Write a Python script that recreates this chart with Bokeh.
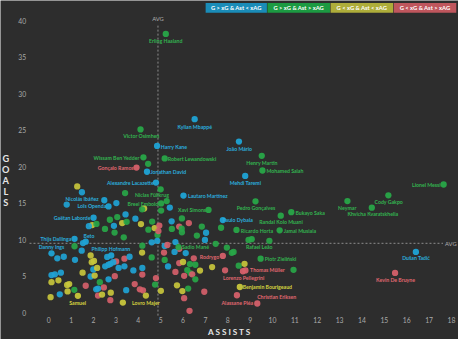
from bokeh.plotting import figure
from bokeh.models import Range1d, ColumnDataSource
from bokeh.core.properties import value
from bokeh.embed import file_html
from bokeh.resources import INLINE

# ---------------- data ----------------
categories = ["G > xG & Ast < xAG", "G > xG & Ast > xAG",
              "G < xG & Ast < xAG", "G < xG & Ast > xAG"]
x_ticks = list(range(0, 19))
y_ticks = list(range(0, 41, 5))
avg_assists = 4.88
avg_goals = 9.52

label_names = ["Erling Haaland", "Kylian Mbappé", "Victor Osimhen", "Harry Kane", "João Mário",
               "Wissam Ben Yedder", "Robert Lewandowski", "Henry Martin", "Mohamed Salah",
               "Gonçalo Ramos", "Jonathan David", "Mehdi Taremi", "Alexandre Lacazette",
               "Lionel Messi", "Cody Gakpo", "Neymar", "Khvicha Kvaratskhelia", "Bukayo Saka",
               "Pedro Gonçalves", "Lautaro Martínez", "Xavi Simons", "Paulo Dybala",
               "Randal Kolo Muani", "Ricardo Horta", "Jamal Musiala", "Rafael Leão",
               "Piotr Zieliński", "Thomas Müller", "Lorenzo Pellegrini", "Benjamin Bourigeaud",
               "Christian Eriksen", "Alassane Pléa", "Kevin De Bruyne", "Dušan Tadić",
               "Sadio Mané", "Rodrygo", "Lovro Majer", "Samuel", "Thijs Dallinga", "Danny Ings",
               "Beto", "Philipp Hofmann", "Gaëtan Laborde", "Nicolás Ibáñez", "Loïs Openda",
               "Breel Embolo", "Niclas Füllkrug"]
label_assists = [5.23, 6.52, 4.10, 4.84, 8.50, 4.23, 5.18, 9.52, 9.55, 3.92, 4.39, 8.78, 4.79,
                 17.65, 15.18, 13.35, 14.44, 10.84, 9.24, 6.02, 7.14, 7.78, 10.37, 8.39, 10.32,
                 9.07, 9.47, 8.79, 8.68, 8.54, 8.41, 9.32, 15.48, 16.41, 5.80, 7.78, 3.31, 1.30,
                 1.15, 0.12, 1.65, 2.79, 2.00, 2.48, 2.67, 5.02, 5.00]
label_goals = [38.22, 26.53, 25.13, 22.87, 23.47, 21.30, 21.16, 21.51, 19.50, 19.90, 19.33, 18.76,
               17.84, 17.58, 16.10, 15.31, 14.40, 13.78, 15.27, 16.06, 14.10, 12.70, 13.31, 11.35,
               11.30, 10.08, 7.42, 5.80, 5.69, 3.53, 2.40, 1.27, 5.46, 8.34, 8.99, 7.79, 1.40,
               2.32, 10.14, 8.15, 9.75, 7.85, 13.02, 15.42, 14.57, 14.99, 16.92]
label_cats = [1, 0, 1, 0, 0, 1, 1, 1, 1, 3, 0, 0, 0, 1, 1, 1, 1, 1, 1, 0, 1, 0, 1, 1, 1, 1, 1,
              3, 3, 2, 3, 3, 3, 0, 1, 3, 2, 2, 0, 0, 0, 0, 0, 0, 0, 1, 1]

other_assists = [4.44, 3.41, 1.27, 1.48, 0.80, 3.02, 5.27, 5.41, 5.02, 4.26, 4.17, 3.43, 3.87,
                 2.73, 3.06, 3.28, 3.48, 4.12, 4.62, 4.73, 1.94, 1.79, 2.13, 2.51, 2.94, 3.35,
                 4.45, 2.91, 4.94, 4.86, 4.90, 5.49, 5.95, 6.26, 5.83, 5.94, 5.50, 5.95, 6.62,
                 6.84, 7.03, 6.98, 7.46, 7.70, 7.96, 8.18, 8.26, 8.93, 9.86, 5.66, 5.18, 5.30,
                 5.15, 5.83, 5.62, 6.12, 6.48, 5.18, 5.33, 5.83, 6.00, 6.31, 6.55, 6.19, 6.34,
                 6.05, 6.41, 6.76, 6.55, 5.66, 4.75, 5.01, 5.73, 5.97, 6.23, 6.05, 6.29, 6.95,
                 7.30, 7.88, 8.49, 8.75, 10.94, 4.60, 4.17, 4.18, 4.60, 4.85, 4.79, 4.18, 3.84,
                 4.07, 4.21, 4.34, 3.78, 4.18, 3.46, 3.38, 3.12, 3.01, 2.88, 3.38, 3.61, 2.61,
                 2.52, 2.67, 2.76, 2.95, 2.67, 2.28, 2.46, 2.12, 2.20, 2.20, 2.38, 2.77, 2.75,
                 1.87, 2.05, 1.51, 1.99, 2.16, 1.92, 2.02, 1.87, 1.47, 1.15, 1.53, 0.38, 0.67,
                 1.17, 0.12, 0.27, 0.54, 0.12, 0.43, 0.82, 0.91, 1.14, 0.84, 0.08, 0.49, 1.65]
other_goals = [20.42, 16.40, 17.32, 16.52, 14.83, 15.03, 15.31, 14.42, 14.01, 14.29, 14.18, 13.48,
               12.89, 12.75, 13.12, 12.30, 12.46, 12.15, 12.50, 11.61, 12.02, 11.87, 12.17, 11.49,
               10.99, 10.34, 11.39, 11.91, 11.95, 10.67, 11.19, 12.54, 12.93, 12.30, 11.82, 11.52,
               11.49, 11.03, 10.58, 11.82, 10.97, 9.99, 9.45, 11.65, 8.93, 8.22, 8.34, 9.99, 9.86,
               9.69, 9.16, 9.29, 8.25, 8.77, 8.34, 8.18, 7.46, 7.24, 6.35, 6.81, 6.96, 6.68, 6.58,
               5.85, 5.41, 5.07, 5.27, 5.79, 4.58, 5.59, 3.86, 3.01, 3.76, 2.98, 3.31, 2.00, 0.26,
               2.88, 6.26, 5.82, 6.45, 6.71, 5.89, 7.59, 8.25, 9.20, 9.65, 9.86, 4.75, 5.24, 3.93,
               3.21, 3.08, 2.36, 5.80, 6.15, 3.10, 6.37, 6.15, 7.03, 6.94, 7.42, 7.68, 7.66, 6.37,
               6.58, 6.71, 5.01, 4.58, 4.19, 3.47, 3.21, 3.31, 2.36, 2.49, 2.75, 1.73, 4.97, 5.10,
               5.50, 5.93, 6.15, 6.94, 7.11, 7.85, 8.51, 9.12, 9.55, 7.46, 7.68, 7.26, 5.17, 5.27,
               5.50, 4.19, 4.45, 3.82, 3.93, 3.14, 2.92, 2.13, 2.53, 3.70]
other_cats = [1, 1, 2, 0, 0, 0, 1, 0, 1, 2, 1, 0, 0, 1, 1, 2, 1, 2, 1, 2, 2, 0, 1, 1, 1, 1, 1,
              0, 3, 1, 3, 0, 1, 3, 3, 1, 1, 1, 1, 1, 0, 0, 1, 1, 1, 1, 1, 1, 1, 0, 0, 3, 3, 3,
              0, 0, 3, 1, 0, 3, 2, 1, 1, 1, 1, 3, 3, 2, 1, 3, 1, 2, 2, 2, 1, 3, 3, 3, 2, 3, 1,
              2, 1, 1, 2, 1, 0, 0, 3, 3, 3, 3, 3, 2, 0, 0, 0, 0, 0, 3, 0, 3, 0, 0, 0, 0, 0, 3,
              0, 1, 3, 0, 0, 3, 2, 2, 3, 0, 2, 2, 0, 2, 2, 2, 2, 0, 1, 0, 0, 0, 0, 0, 0, 0, 2,
              2, 2, 2, 1, 2, 2, 0, 3]

# ---------------- layout / style ----------------
# label placement: offset (px, at reference scale) of label centre from its dot (dx right, dy down)
LABEL_OFFSETS = {
    "Erling Haaland": (0, 7.7), "Kylian Mbappé": (0, 7.7), "Victor Osimhen": (0.8, 7.3),
    "Harry Kane": (17.5, 0.7), "João Mário": (0.3, 7.3), "Wissam Ben Yedder": (-27.8, 1),
    "Robert Lewandowski": (28.3, 0.4), "Henry Martin": (0.2, 7.3), "Mohamed Salah": (23.3, 0.3),
    "Gonçalo Ramos": (-21.5, 0), "Jonathan David": (22.1, 0), "Mehdi Taremi": (0.2, 7),
    "Alexandre Lacazette": (-26.5, 0.6), "Lionel Messi": (-17.9, 0), "Cody Gakpo": (0.4, 6.7),
    "Neymar": (-0.2, 7.3), "Khvicha Kvaratskhelia": (1, 7), "Bukayo Saka": (19.5, 0.3),
    "Pedro Gonçalves": (0.5, 7.4), "Lautaro Martínez": (25.2, 0), "Xavi Simons": (-17, 0),
    "Paulo Dybala": (15.3, 0), "Randal Kolo Muani": (0.3, 7), "Ricardo Horta": (21.2, 0.7),
    "Jamal Musiala": (21, 0.3), "Rafael Leão": (7.8, 8.3), "Piotr Zieliński": (20.7, 0),
    "Thomas Müller": (22.7, 0), "Lorenzo Pellegrini": (0.7, 6.8),
    "Benjamin Bourigeaud": (28.5, 0.3), "Christian Eriksen": (41.1, 1.6),
    "Alassane Pléa": (-20.7, 0), "Kevin De Bruyne": (0.5, 7.4), "Dušan Tadić": (0.2, 6.7),
    "Sadio Mané": (17.5, -0.3), "Rodrygo": (-13.8, 0.8), "Lovro Majer": (23.8, 0.2),
    "Samuel": (-0.3, 7.2), "Thijs Dallinga": (-19.2, -0.2), "Danny Ings": (0.1, -6.7),
    "Beto": (3.4, -5.8), "Philipp Hofmann": (-0.3, -7), "Gaëtan Laborde": (-22.1, 0.2),
    "Nicolás Ibáñez": (-23, -1.2), "Loïs Openda": (-17.2, -0.7), "Breel Embolo": (-18.8, 0.2),
    "Niclas Füllkrug": (-9, 6),
}

BG = "#2d2d2d"
DOT = ["#1fa3d5", "#28a648", "#c8c63c", "#d5606a"]
TXT = ["#2badde", "#33b450", "#d8d540", "#e06870"]
LEG = ["#1a8cb8", "#1c9a42", "#aead3a", "#bf565d"]
FONT = value("Lato")

# reference canvas (474x355) is drawn scaled into the figure
REF_W, REF_H = 474, 355
W, H = 458, 339
SX, SY = W / REF_W, H / REF_H
# reference pixel geometry of the value axes
RX0, RXU = 50.0, 23.15   # pixel of assists=0, pixels per assist
RY0, RYU = 327.0, 7.64   # pixel of goals=0, pixels per goal


def ax(px):  # reference pixel x -> assists
    return (px - RX0) / RXU


def gy(py):  # reference pixel y -> goals
    return (RY0 - py) / RYU


p = figure(width=W, height=H, x_range=Range1d(ax(0), ax(REF_W)), y_range=Range1d(gy(REF_H), gy(0)),
           output_backend="svg", toolbar_location=None,
           min_border_left=0, min_border_right=0, min_border_top=0, min_border_bottom=0,
           background_fill_color=BG, border_fill_color=BG, outline_line_color=None)
p.grid.visible = False
p.axis.visible = False

# tick labels
p.text(x=x_ticks, y=[gy(335)] * len(x_ticks), text=[str(t) for t in x_ticks],
       text_color="#a9a9a9", text_align="center", text_baseline="middle",
       text_font=FONT, text_font_size="6.8px")
p.text(x=[ax(26.5)] * len(y_ticks), y=y_ticks, text=[str(t) for t in y_ticks],
       text_color="#a9a9a9", text_align="right", text_baseline="middle",
       text_font=FONT, text_font_size="6.8px")

# average reference lines
p.segment(x0=[avg_assists], y0=[gy(330)], x1=[avg_assists], y1=[gy(25)],
          line_color="#8c8c8c", line_width=1, line_dash="2 2")
p.segment(x0=[ax(30)], y0=[avg_goals], x1=[ax(458)], y1=[avg_goals],
          line_color="#8c8c8c", line_width=1, line_dash="2 2")
p.text(x=[avg_assists], y=[gy(19)], text=["AVG"], text_align="center", text_baseline="middle",
       text_color="#b0b0b0", text_font=FONT, text_font_size="5.8px")
p.text(x=[ax(460)], y=[avg_goals], text=["AVG"], text_align="left", text_baseline="middle",
       text_color="#b0b0b0", text_font=FONT, text_font_size="5.8px")

# dots
other = ColumnDataSource(dict(x=other_assists, y=other_goals,
                              c=[DOT[k] for k in other_cats]))
p.scatter("x", "y", source=other, size=6.3, fill_color="c", line_color=None, fill_alpha=0.92)
lab = ColumnDataSource(dict(
    x=label_assists, y=label_goals, name=label_names,
    c=[DOT[k] for k in label_cats], tc=[TXT[k] for k in label_cats],
    dx=[LABEL_OFFSETS[n][0] * SX for n in label_names],
    dy=[LABEL_OFFSETS[n][1] * SY for n in label_names]))
p.scatter("x", "y", source=lab, size=6.3, fill_color="c", line_color=None, fill_alpha=0.95)
p.text("x", "y", text="name", source=lab, text_color="tc", x_offset="dx", y_offset="dy",
       text_align="center", text_baseline="middle", text_font=FONT,
       text_font_size="5.2px", text_font_style="bold")

# legend bar (top right)
edges = [212, 276, 341.3, 406.7, 472]
bx = [ax((edges[i] + edges[i + 1]) / 2) for i in range(4)]
bw = [(edges[i + 1] - edges[i] - 0.6) / RXU for i in range(4)]
by = [gy(7.7)] * 4
p.rect(x=bx, y=by, width=bw, height=10 / RYU, fill_color=LEG, line_color=None)
p.text(x=bx, y=by, text=categories, text_color="#ffffff", text_align="center",
       text_baseline="middle", text_font=FONT, text_font_size="5.8px",
       text_font_style="bold")

# axis titles
p.text(x=[ax(237)], y=[gy(347)], text=["A S S I S T S"], text_align="center",
       text_baseline="middle", text_color="#e6e6e6", text_font=FONT,
       text_font_size="8.2px", text_font_style="bold")
goals_letters = list("GOALS")
p.text(x=[ax(5.5)] * 5, y=[gy(165.7 + 11.5 * i) for i in range(5)], text=goals_letters,
       text_align="center", text_baseline="middle", text_color="#e6e6e6",
       text_font=FONT, text_font_size="9.2px", text_font_style="bold")

open("out.html", "w").write(file_html(p, INLINE))
